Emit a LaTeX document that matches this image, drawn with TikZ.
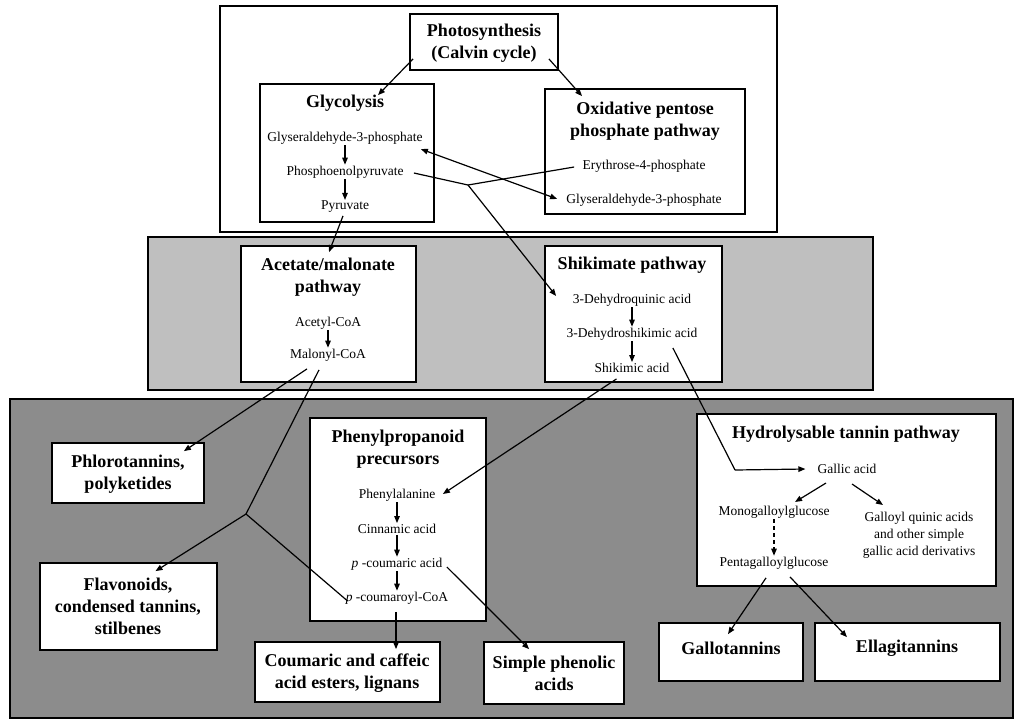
\documentclass[tikz,border=0pt]{standalone}
\usepackage{fontspec}
\setmainfont{Liberation Serif}
\usetikzlibrary{arrows.meta,calc}
\tikzset{
  frame/.style={draw=black, line width=2pt},
  box/.style={draw=black, line width=1.8pt, fill=white, inner sep=0pt},
  ttl/.style={font=\fontsize{18}{22}\selectfont\bfseries, align=center, inner sep=1pt},
  sm/.style={font=\fontsize{13.5}{17}\selectfont, align=center, inner sep=1pt},
  arr/.style={-{Triangle[length=7pt,width=5.5pt]}, line width=1.2pt},
  dbl/.style={{Triangle[length=7pt,width=5.5pt]}-{Triangle[length=7pt,width=5.5pt]}, line width=1.2pt},
  ln/.style={line width=1.2pt},
}
\begin{document}
\begin{tikzpicture}[x=1pt,y=-1pt]
\useasboundingbox (0,0) rectangle (1024,724);
\fill[white] (0,0) rectangle (1024,724);
% frames
\draw[frame, fill=white] (220,6) rectangle (777,232);
\draw[frame, fill=black!25] (148,237) rectangle (873,390);
\draw[frame, line width=2.5pt, fill=black!45] (10,399) rectangle (1013,718);

% boxes
\node[box, minimum width=148pt, minimum height=56pt] (photo) at (484,42) {};
\node[box, minimum width=174pt, minimum height=138pt] (glyc) at (347,153) {};
\node[box, minimum width=200pt, minimum height=125pt] (oxid) at (645,151.5) {};
\node[box, minimum width=175pt, minimum height=136pt] (acet) at (328.5,314) {};
\node[box, minimum width=177pt, minimum height=136pt] (shik) at (633.5,314) {};
\node[box, minimum width=152pt, minimum height=60pt] (phlo) at (128,473) {};
\node[box, minimum width=177pt, minimum height=87pt] (flav) at (128.5,606.5) {};
\node[box, minimum width=176pt, minimum height=203pt] (phen) at (398,519.5) {};
\node[box, minimum width=185pt, minimum height=60pt] (coum) at (347.5,672) {};
\node[box, minimum width=140pt, minimum height=62pt] (simp) at (554,673) {};
\node[box, minimum width=299pt, minimum height=172pt] (hydr) at (846.5,500) {};
\node[box, minimum width=144pt, minimum height=58pt] (gallo) at (731,652) {};
\node[box, minimum width=185pt, minimum height=58pt] (ellag) at (907.5,652) {};

% texts
\node[ttl] (photot) at (484,43) {Photosynthesis\\(Calvin cycle)};
\node[ttl] (glyct) at (345,103) {Glycolysis};
\node[sm] (g3p) at (345,138) {Glyseraldehyde-3-phosphate};
\node[sm] (pep) at (345,172) {Phosphoenolpyruvate};
\node[sm] (pyr) at (345,207) {Pyruvate};
\node[ttl] (oxt) at (645,121) {Oxidative pentose\\phosphate pathway};
\node[sm] (e4p) at (644,166) {Erythrose-4-phosphate};
\node[sm] (g3pb) at (644,200) {Glyseraldehyde-3-phosphate};
\node[ttl] (acett) at (328,277) {Acetate/malonate\\pathway};
\node[sm] (acoa) at (328,323) {Acetyl-CoA};
\node[sm] (mcoa) at (328,355) {Malonyl-CoA};
\node[ttl] (shikt) at (632,265) {Shikimate pathway};
\node[sm] (dhq) at (632,300) {3-Dehydroquinic acid};
\node[sm] (dhs) at (632,334) {3-Dehydroshikimic acid};
\node[sm] (sa) at (632,368) {Shikimic acid};
\node[ttl] (phlot) at (128,474) {Phlorotannins,\\polyketides};
\node[ttl] (flavt) at (128,606) {Flavonoids,\\condensed tannins,\\stilbenes};
\node[ttl] (phent) at (398,449) {Phenylpropanoid\\precursors};
\node[sm] (phe) at (397,495) {Phenylalanine};
\node[sm] (cin) at (397,529) {Cinnamic acid};
\node[sm] (pca) at (397,564) {{\itshape p} -coumaric acid};
\node[sm] (pcoa) at (397,598) {{\itshape p} -coumaroyl-CoA};
\node[ttl] (coumt) at (347,673) {Coumaric and caffeic\\acid esters, lignans};
\node[ttl] (simpt) at (554,673) {Simple phenolic\\acids};
\node[ttl] (hydrt) at (846,434) {Hydrolysable tannin pathway};
\node[sm] (gal) at (847,469) {Gallic acid};
\node[sm] (mono) at (774,512) {Monogalloylglucose};
\node[sm] (gq) at (919,535) {Galloyl quinic acids\\and other simple\\gallic acid derivativs};
\node[sm] (penta) at (774,563) {Pentagalloylglucose};
\node[ttl] (gallot) at (731,648) {Gallotannins};
\node[ttl] (ellagt) at (907,648) {Ellagitannins};

% junctions
\coordinate (j1) at (468,185);
\coordinate (j2) at (246,514);
\coordinate (k1) at (735,470);

% connectors
\draw[arr] ($(photo.south west)+(4,-12)$) -- ($(glyc.north)+(31,12)$);
\draw[arr] ($(photo.south east)+(-10,-12)$) -- ($(oxid.north)+(-63,8)$);
\draw[arr] (g3p) -- (pep);
\draw[arr] (pep) -- (pyr);
\draw[dbl] ($(glyc.north east)+(-14,66)$) -- ($(oxid.south west)+(13,-16)$);
\draw[ln] ($(glyc.east)+(-21,20)$) -- (j1);
\draw[ln] ($(oxid.west)+(30,15.5)$) -- (j1);
\draw[arr] (j1) -- ($(shik.west)+(12,-18)$);
\draw[arr] ($(glyc.south)+(-4,-7)$) -- ($(acet.north)+(0.5,7)$);
\draw[arr] (acoa) -- (mcoa);
\draw[arr] (dhq) -- (dhs);
\draw[arr] (dhs) -- (sa);
\draw[arr] ($(acet.south)+(-21.5,-14)$) -- ($(phlo.north east)+(-21,9)$);
\draw[ln] ($(acet.south)+(-9.5,-13)$) -- (j2);
\draw[arr] (j2) -- ($(flav.north)+(27,9)$);
\draw[ln] (j2) -- ($(pcoa.west)+(3,3)$);
\draw[arr] ($(shik.south)+(-17,-4)$) -- ($(phen.east)+(-44,-25.5)$);
\draw[ln] ($(shik.east)+(-50,34)$) -- (k1);
\draw[arr] (k1) -- ($(gal.west)+(-11,0)$);
\draw[arr] (phe) -- (cin);
\draw[arr] (cin) -- (pca);
\draw[arr] (pca) -- (pcoa);
\draw[arr] ($(phen.east)+(-40,47.5)$) -- ($(simp.north west)+(46,8)$);
\draw[arr] ($(phen.south)+(-2,-10)$) -- ($(coum.north)+(48.5,8)$);
\draw[arr] ($(hydr.center)+(-20.5,-17)$) -- ($(hydr.center)+(-51.5,2)$);
\draw[arr] ($(hydr.center)+(5.5,-16)$) -- ($(hydr.center)+(36.5,5)$);
\draw[arr, dash pattern=on 4pt off 3pt] (mono) -- (penta);
\draw[arr] ($(hydr.south)+(-80.5,-9)$) -- ($(gallo.north)+(-3,12)$);
\draw[arr] ($(hydr.south)+(-56.5,-10)$) -- ($(ellag.north)+(-60.5,15)$);
\end{tikzpicture}
\end{document}
